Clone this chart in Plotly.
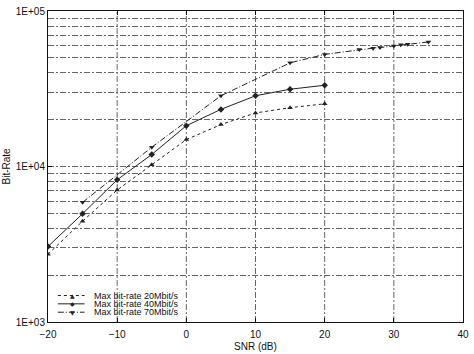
import plotly.graph_objects as go

snr_20 = [-20, -15, -10, -5, 0, 5, 10, 15, 20]
rate_20 = [2730, 4450, 7060, 10250, 14900, 18600, 22100, 23900, 25300]

snr_40 = [-20, -15, -10, -5, 0, 5, 10, 15, 20]
rate_40 = [3060, 4970, 8210, 11950, 18300, 23300, 28500, 31400, 33300]

snr_70 = [-15, -5, 5, 15, 20, 25, 27, 28, 30, 31, 32, 35]
rate_70 = [5880, 13300, 28500, 46400, 52600, 56600, 57700, 58200, 59600, 60600, 61100, 63200]

names = ["Max bit-rate 20Mbit/s", "Max bit-rate 40Mbit/s", "Max bit-rate 70Mbit/s"]
y_tickvals = [1000, 10000, 100000]
y_ticktext = ["1E+03", "1E+04", "1E+05"]
x_tickvals = [-20, -10, 0, 10, 20, 30, 40]

styles = [
    dict(dash="dot", symbol="triangle-up", glyph="▲"),
    dict(dash="solid", symbol="diamond", glyph="◆"),
    dict(dash="6px,2px,1px,2px", symbol="triangle-down", glyph="▼"),
]
LC = "#222222"
FONT = "Liberation Sans, Arial, sans-serif"
GC = "#666666"
GD = "6px,2px,2px,2px"

fig = go.Figure()

# vertical grid lines at the x tick values
for xv in x_tickvals[1:-1]:
    fig.add_shape(type="line", xref="x", yref="paper", x0=xv, x1=xv, y0=0, y1=1,
                  line=dict(color=GC, width=1, dash=GD), layer="below")

for (xs, ys), st, nm in zip([(snr_20, rate_20), (snr_40, rate_40), (snr_70, rate_70)], styles, names):
    fig.add_trace(go.Scatter(
        x=xs, y=ys, mode="lines+markers", name=nm, showlegend=False,
        line=dict(color=LC, width=1, dash=st["dash"]),
        marker=dict(symbol=st["symbol"], size=5, color=LC),
    ))

# compact hand-made legend (paper coordinates)
leg_y = [0.0852, 0.0584, 0.0315]
for ly, st, nm in zip(leg_y, styles, names):
    fig.add_shape(type="line", xref="paper", yref="paper", x0=0.0238, x1=0.0881, y0=ly, y1=ly,
                  line=dict(color=LC, width=1, dash=st["dash"]))
    fig.add_annotation(x=0.0595, y=ly, xref="paper", yref="paper", text=st["glyph"], showarrow=False,
                       xanchor="center", yanchor="middle", font=dict(size=6, color=LC, family="DejaVu Sans"))
    fig.add_annotation(x=0.107, y=ly, xref="paper", yref="paper", text=nm, showarrow=False,
                       xanchor="left", yanchor="middle", font=dict(size=9, color="#111", family=FONT))

fig.update_layout(
    width=474, height=354,
    margin=dict(l=48, r=6, t=5, b=32),
    paper_bgcolor="white", plot_bgcolor="white",
    font=dict(family=FONT, size=10, color="#111"),
    showlegend=False,
)
fig.update_xaxes(range=[-20, 40], tickvals=x_tickvals,
                 showgrid=False,
                 ticks="inside", ticklen=4, tickcolor="#111", mirror="allticks",
                 showline=True, linecolor="#111", linewidth=1, zeroline=False,
                 tickfont=dict(size=10), ticklabelstandoff=3)
fig.update_yaxes(type="log", range=[3, 5], tickvals=y_tickvals, ticktext=y_ticktext,
                 showgrid=True, gridcolor=GC, gridwidth=1, griddash=GD,
                 ticks="inside", ticklen=4, tickcolor="#111",
                 mirror="allticks", showline=True, linecolor="#111", linewidth=1,
                 zeroline=False, tickfont=dict(size=10),
                 minor=dict(dtick="D1", showgrid=True, ticks="", gridcolor=GC, gridwidth=1, griddash=GD))
fig.add_annotation(x=0.5, y=0, xref="paper", yref="paper", yshift=-24, text="SNR (dB)",
                   showarrow=False, xanchor="center", yanchor="middle", font=dict(size=10))
fig.add_annotation(x=0, y=0.5, xref="paper", yref="paper", xshift=-42, text="Bit-Rate",
                   showarrow=False, textangle=-90, xanchor="center", yanchor="middle", font=dict(size=10))
fig.write_html("out.html")
